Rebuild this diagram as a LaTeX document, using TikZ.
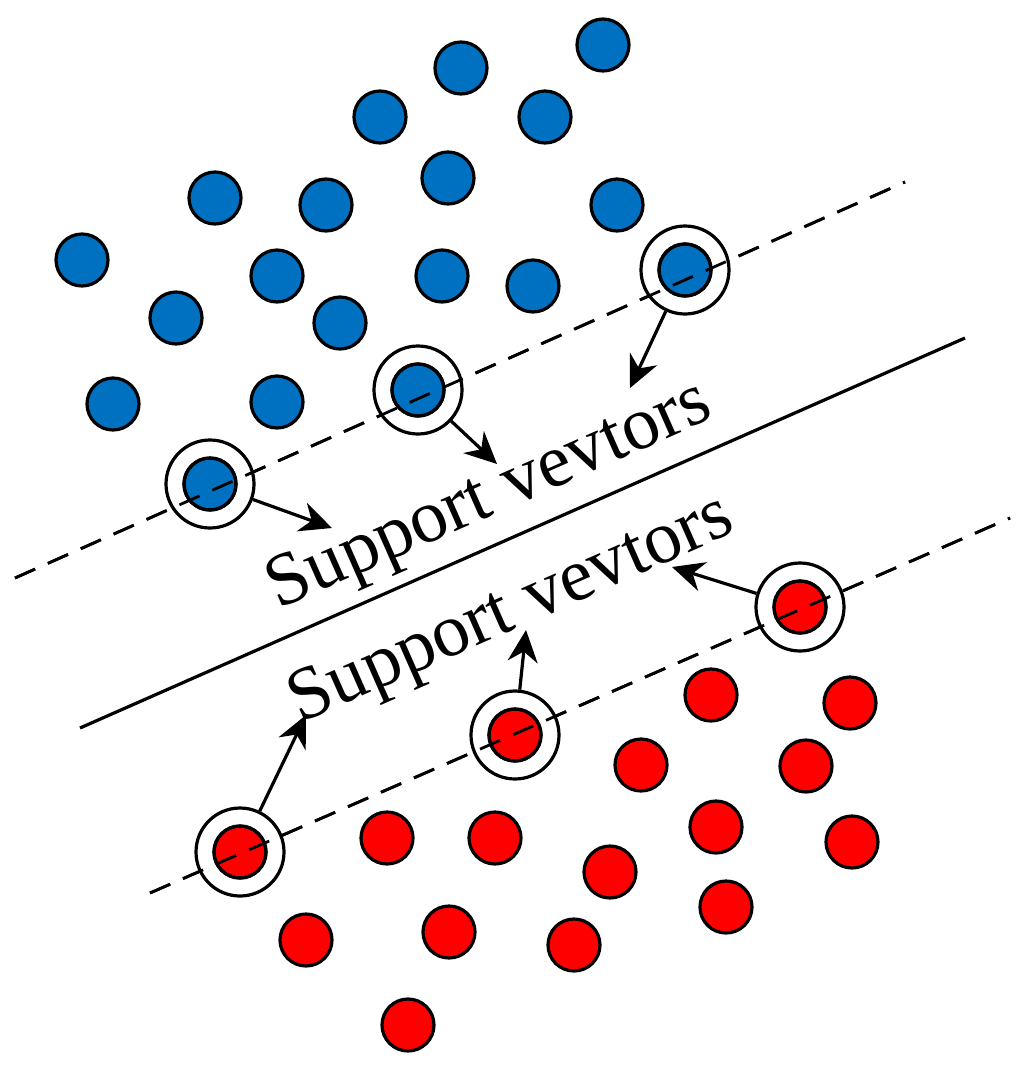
\documentclass[tikz,border=0pt]{standalone}
\usepackage{fontspec}
\setmainfont{Liberation Serif}
\usetikzlibrary{arrows.meta}
\definecolor{bl}{RGB}{0,112,192}
\definecolor{rd}{RGB}{255,0,0}
\begin{document}
\begin{tikzpicture}[x=1pt,y=-1pt,
 pt/.style={circle,draw=black,line width=3.2pt,minimum size=52pt,inner sep=0pt},
 bpt/.style={pt,fill=bl}, rpt/.style={pt,fill=rd},
 ring/.style={circle,draw=black,line width=3.2pt,minimum size=88pt,inner sep=0pt,fill=white},
 arr/.style={-{Stealth[length=32pt,width=30pt]},line width=3.2pt},
 dl/.style={line width=2.8pt,dash pattern=on 22pt off 14pt},
 lab/.style={font=\fontsize{75}{75}\selectfont,rotate=23.8}]
\useasboundingbox (0,0) rectangle (1024,1066);
\draw[dl] (15,578) -- (905,182);
\draw[line width=3.2pt] (80,728) -- (965,338);
\draw[dl] (150,893) -- (1010,518);
\foreach \i/\p in {1/{(603,45)},2/{(461,68)},3/{(380,117)},4/{(545,117)},5/{(215,198)},6/{(326,205)},7/{(448,178)},8/{(617,205)},9/{(82,260)},10/{(277,276)},11/{(442,276)},12/{(533,286)},13/{(176,318)},14/{(340,323)},15/{(113,404)},16/{(277,402)}}
  \node[bpt] (b\i) at \p {};
\foreach \i/\p in {1/{(711,695)},2/{(850,703)},3/{(641,765)},4/{(806,766)},5/{(387,838)},6/{(495,838)},7/{(716,827)},8/{(852,842)},9/{(610,872)},10/{(306,940)},11/{(449,932)},12/{(574,945)},13/{(726,907)},14/{(408,1025)}}
  \node[rpt] (r\i) at \p {};
\foreach \n/\p/\c in {sb1/{(685,270)}/bl,sb2/{(418,390)}/bl,sb3/{(210,484)}/bl,sr1/{(800,607)}/rd,sr2/{(515,735)}/rd,sr3/{(240,852)}/rd}{
  \node[ring] (\n r) at \p {};
  \node[pt,fill=\c] (\n) at \p {};
}
\draw[dl] (15,578) -- (905,182);
\draw[dl] (150,893) -- (1010,518);
\foreach \p in {(685,270),(418,390),(210,484),(800,607),(515,735),(240,852)}
  \draw[line width=3.2pt] \p circle (26pt);
\node[lab] (t1) at (490,498) {Support vevtors};
\node[lab] (t2) at (512,612) {Support vevtors};
\coordinate (a1) at (332,528); \coordinate (a2) at (497,464); \coordinate (a3) at (630,388);
\coordinate (a4) at (672,567); \coordinate (a5) at (526,630); \coordinate (a6) at (306,715);
\draw[arr] (sb3r) -- (a1);
\draw[arr] (sb2r) -- (a2);
\draw[arr] (sb1r) -- (a3);
\draw[arr] (sr1r) -- (a4);
\draw[arr] (sr2r) -- (a5);
\draw[arr] (sr3r) -- (a6);
\end{tikzpicture}
\end{document}
